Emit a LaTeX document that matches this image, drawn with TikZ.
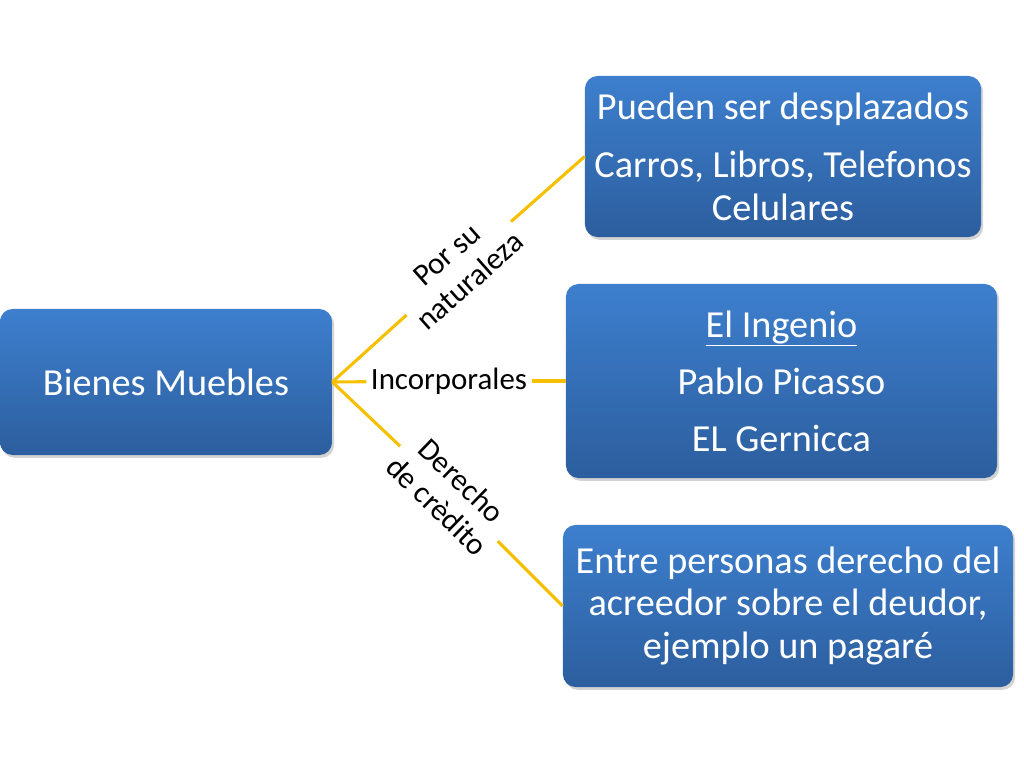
\documentclass[tikz,border=0pt]{standalone}
\usepackage{fontspec}
\setmainfont{Carlito}
\usetikzlibrary{shadows}
\definecolor{boxtop}{RGB}{61,127,206}
\definecolor{boxbot}{RGB}{44,94,158}
\definecolor{linkyellow}{RGB}{246,192,0}

\begin{document}
\begin{tikzpicture}[x=0.025cm, y=-0.025cm, box/.style={rounded corners=9pt, top color=boxtop, bottom color=boxbot, text=white, inner sep=0pt, align=center, font=\fontsize{27.2}{30.5}\selectfont, drop shadow={shadow xshift=1.5pt, shadow yshift=-2pt, opacity=0.35}}, link/.style={draw=linkyellow, line width=2.2pt}, lbl/.style={align=center, inner sep=3pt, font=\fontsize{22}{25}\selectfont}]
	\useasboundingbox (0,0) rectangle (1024,768);
	\node[box, minimum width=8.3cm, minimum height=3.65cm] (bm) at (166,382) {Bienes Muebles};
	\node[box, minimum width=9.9cm, minimum height=4.025cm] (top) at (783,156.5) {Pueden ser desplazados\\[11pt]Carros, Libros, Telefonos\\Celulares};
	\node[box, minimum width=10.775cm, minimum height=4.85cm] (mid) at (781.5,381) {\underline{El Ingenio}\\[10pt]Pablo Picasso\\[10pt]EL Gernicca};
	\node[box, minimum width=11.25cm, minimum height=4.05cm] (bot) at (788,606) {Entre personas derecho del\\acreedor sobre el deudor,\\ejemplo un pagaré};
	\node[lbl, rotate=41.5] (por) at (458.5,268) {Por su\\naturaleza};
	\node[lbl] (inc) at (449,381) {Incorporales};
	\node[lbl, rotate=-44] (der) at (449.5,493) {Derecho\\de crèdito};
	\draw[link] (bm.east) -- (por);
	\draw[link] (por) -- (top.west);
	\draw[link] (bm.east) -- (inc);
	\draw[link] (inc) -- (mid.west);
	\draw[link] (bm.east) -- (der);
	\draw[link] (der) -- (bot.west);
\end{tikzpicture}
\end{document}
